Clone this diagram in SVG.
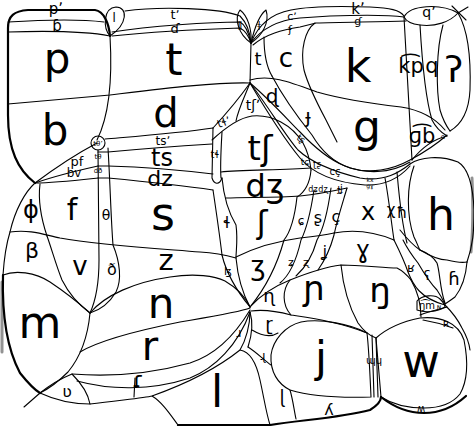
<svg xmlns="http://www.w3.org/2000/svg" width="474" height="426" viewBox="0 0 474 426">
<style>
.c{fill:none;stroke:#000;stroke-width:1.1;stroke-linejoin:round;stroke-linecap:round}
.k{fill:none;stroke:#000;stroke-width:2.2;stroke-linecap:round}
.s{fill:none;stroke:#777;stroke-width:3;stroke-linecap:round;opacity:0.8}
text{font-family:"DejaVu Sans","Noto Sans",sans-serif;text-anchor:middle;fill:#000}
</style>
<rect width="474" height="426" fill="#fff"/>
<g id="connectors">
<path class="s" d="M2,282 L2,352"/>
<path class="s" d="M472,178 C473,200 473,230 471,252"/>
<path class="k" d="M35,183 C18,170 8,150 8,115 L8,28 C8,16 14,11 28,10 L95,10 C104,11 109,24 110,36"/>
<path class="c" d="M8,22 C40,20 80,19 104,22"/>
<path class="c" d="M8,32 C40,31 85,31 110,36"/>
<path class="c" d="M8,104 C50,100 90,97 110,95 C160,89 215,82 250,83"/>
<path class="c" d="M110,36 C112,70 111,112 97,140"/>
<path class="c" d="M110,36 C103,28 103,8 116,7 C128,7 128,24 110,36 Z"/>
<path class="c" d="M125,11 C160,6 220,8 240,16 C246,22 250,32 251,43"/>
<path class="c" d="M112,32 C150,26 210,22 240,22 C246,25 249,34 251,43"/>
<path class="c" d="M112,36 C150,32 210,29 240,28 C246,31 249,37 251,43"/>
<path class="c" d="M251,43 C238,34 234,18 240,10 C248,16 252,30 251,43"/>
<path class="c" d="M251,43 C254,30 258,16 266,10 C270,22 262,36 251,43"/>
<path class="c" d="M251,43 L250,83"/>
<path class="c" d="M251,43 C258,25 270,14 291,10 C310,6 340,6 370,7 C390,8 400,10 404,16"/>
<path class="c" d="M251,43 C262,28 280,20 300,18 L330,16 C360,15 390,15 404,17"/>
<path class="c" d="M253,45 C266,34 282,30 300,27 L316,23 C340,22 380,22 406,21"/>
<path class="c" d="M264,37 C264,52 266,66 272,76"/>
<path class="c" d="M250,80 C270,74 290,82 317,92 C345,100 375,104 401,107 C420,110 435,118 445,130"/>
<path class="c" d="M315,23 C305,30 300,50 304,70 C308,85 318,105 326,120 C330,128 334,136 337,142"/>
<path class="c" d="M272,76 C282,95 296,115 312,135 C322,152 335,163 350,168 C370,174 392,170 410,160 C425,152 438,143 447,135"/>
<path class="c" d="M404,17 C410,5 440,3 458,13 C450,22 435,27 420,25 C412,24 406,21 404,17 Z"/>
<path class="c" d="M452,6 L466,20 M458,13 L468,7"/>
<path class="c" d="M404,17 C406,50 409,100 412,160"/>
<path class="c" d="M420,25 C422,60 426,100 432,120 C436,128 442,133 447,136"/>
<path class="c" d="M443,25 C436,50 436,90 440,110 C443,120 447,127 450,131"/>
<path class="c" d="M458,13 C468,30 471,60 470,90 C469,110 462,124 450,131"/>
<path class="c" d="M412,160 C420,150 430,140 447,136"/>
<path class="c" d="M250,83 C270,100 288,120 300,132 C315,148 330,160 345,166 C365,174 390,174 410,162"/>
<path class="c" d="M250,83 C268,106 285,135 298,150 C312,163 335,172 360,178 C385,182 400,172 410,164"/>
<path class="c" d="M250,83 C266,110 285,140 300,158 C315,176 340,183 365,185 C388,186 402,175 410,166"/>
<path class="c" d="M35,183 C55,168 80,152 97,143"/>
<path class="c" d="M35,183 C55,176 80,170 98,166"/>
<path class="c" d="M35,183 C55,183 80,180 98,178"/>
<circle class="c" cx="98" cy="143" r="7"/>
<path class="c" d="M98,150 L99,260 C99,285 96,300 90,313"/>
<path class="c" d="M108,148 C110,180 111,220 113,245 C120,262 122,280 116,292 C110,302 100,310 90,313"/>
<path class="c" d="M105,139 C140,136 180,133 213,128"/>
<path class="c" d="M98,152 L108,152 C140,149 180,146 212,144"/>
<path class="c" d="M98,166 L108,166 C140,167 180,170 213,174"/>
<path class="c" d="M98,178 L108,178 C140,181 180,185 213,190"/>
<path class="c" d="M213,128 L212,178 M222,132 C221,150 220,165 221,178 M212,178 C214,184 219,186 222,178"/>
<path class="c" d="M213,190 C216,210 219,230 222,255"/>
<path class="c" d="M35,183 C25,192 15,210 10,232 C6,245 4,260 3,275"/>
<path class="c" d="M40,184 C38,200 40,215 47,236"/>
<path class="c" d="M10,232 C30,229 45,235 60,238 C100,245 150,248 200,252 C215,253 225,255 236,258"/>
<path class="c" d="M47,236 C52,250 56,265 62,280 C68,292 75,302 90,313"/>
<path class="c" d="M3,275 C15,270 35,272 50,282 C65,292 80,304 90,313"/>
<path class="k" d="M3,275 C2,310 5,345 20,373 C28,383 35,390 40,393"/>
<path class="c" d="M90,313 C88,335 82,355 68,372 C58,382 48,389 40,393 L24,407"/>
<path class="c" d="M40,393 C50,385 62,378 72,374 C80,382 88,393 90,404 C70,404 55,400 40,393 Z"/>
<path class="c" d="M90,313 C105,295 135,282 170,277 C195,273 215,276 225,281 C237,288 246,298 250,307"/>
<path class="c" d="M80,352 C100,340 140,330 180,322 C215,316 240,312 250,308"/>
<path class="c" d="M72,374 C110,377 150,374 190,363 C215,355 235,335 250,310"/>
<path class="c" d="M77,381 C110,390 150,391 190,378 C215,368 238,345 250,312"/>
<path class="c" d="M90,404 C120,400 145,398 152,396 C180,386 215,370 240,350 C246,340 250,325 250,312"/>
<path class="c" d="M135,378 L134,397"/>
<path class="c" d="M152,396 C162,402 170,414 178,425"/>
<path class="c" d="M240,350 C252,352 257,366 260,380 C264,398 266,412 270,425"/>
<path class="k" d="M178,425 L270,425"/>
<path class="c" d="M250,83 C238,100 225,115 213,128"/>
<path class="c" d="M250,83 C244,98 238,110 236,121"/>
<path class="c" d="M212,140 C225,128 238,118 252,116 C272,114 292,125 303,143 C308,152 310,160 311,170"/>
<path class="c" d="M221,172 C240,170 280,170 311,168"/>
<path class="c" d="M222,178 C224,200 230,215 236,225 C238,240 236,250 236,258 C238,280 244,296 250,307"/>
<path class="c" d="M222,255 C226,272 236,290 250,307"/>
<path class="c" d="M226,198 C245,197 275,198 300,196 C320,194 338,190 347,188"/>
<path class="c" d="M236,257 C250,250 270,242 300,238 C320,236 330,234 334,233"/>
<path class="c" d="M311,170 C310,182 305,192 297,197 C295,215 292,230 284,240 C278,262 268,285 250,307"/>
<path class="c" d="M314,190 C311,210 307,228 301,240 C296,262 290,275 280,283"/>
<path class="c" d="M331,188 C328,210 324,228 317,240 C312,258 305,268 296,276"/>
<path class="c" d="M347,188 C342,205 337,220 334,235 C330,250 325,260 318,270"/>
<path class="c" d="M334,233 C350,230 370,230 394,240"/>
<path class="c" d="M385,178 C389,200 391,220 394,240"/>
<path class="c" d="M397,172 C399,195 401,220 407,243"/>
<path class="c" d="M410,164 C420,157 440,155 458,162 C468,168 473,185 474,210 C474,232 473,245 467,262"/>
<path class="c" d="M414,166 C407,185 406,215 414,237 C418,245 419,249 420,250"/>
<path class="c" d="M400,230 C408,240 414,246 420,250 C430,256 440,260 447,260 C455,262 462,263 467,262"/>
<path class="c" d="M250,307 C258,298 270,288 290,280 C310,272 325,267 341,265 C360,265 385,268 397,268 C403,271 407,275 411,280"/>
<path class="c" d="M290,280 C282,290 282,305 291,315"/>
<path class="c" d="M341,265 C343,285 348,305 358,323 C363,330 370,336 376,338"/>
<path class="c" d="M411,280 C418,292 421,305 421,317"/>
<path class="c" d="M251,311 C265,309 280,312 291,315 C310,318 340,322 367,333"/>
<path class="c" d="M250,312 C253,322 252,335 248,347"/>
<path class="c" d="M252,330 C262,336 270,338 278,333"/>
<path class="c" d="M367,333 C350,324 320,318 301,322 C285,326 273,340 271,355 C270,372 278,384 290,390 C310,396 340,398 371,397 C370,375 369,350 367,333 Z"/>
<path class="c" d="M372,335 L374,397 M376,338 L378,397"/>
<path class="c" d="M376,338 C385,330 400,322 420,318 C440,316 458,322 464,340 C468,360 468,380 460,394 C452,404 440,408 424,408 C405,408 392,404 381,397 L376,338"/>
<path class="k" d="M381,397 C395,408 410,413 424,413 C440,413 455,406 466,396"/>
<path class="c" d="M290,390 C293,400 294,410 296,419"/>
<path class="k" d="M270,425 C300,420 340,418 370,410 C378,405 381,400 381,397"/>
<path class="c" d="M248,347 C256,352 264,360 271,365"/>
<path class="c" d="M394,240 C400,252 405,263 408,272 C413,285 420,298 445,305"/>
<path class="c" d="M403,240 C408,250 414,258 418,263 C425,275 432,285 437,290 C441,296 443,300 445,304"/>
<path class="c" d="M420,250 C428,253 434,258 437,263 C440,272 440,290 445,303"/>
<path class="c" d="M467,262 C466,275 462,288 455,297 C451,300 448,302 445,304"/>
<path class="c" d="M417,301 C422,295 435,294 440,299 C443,302 445,305 445,307 C437,312 425,313 417,310 Z"/>
<path class="c" d="M420,315 C430,311 440,309 447,307 M423,320 C435,322 445,325 453,328"/>
<path class="c" d="M445,305 C452,312 458,320 462,328 C466,335 469,342 470,350"/>
</g>
<g id="labels">
<text x="56" y="14" font-size="15">pʼ</text>
<text x="57" y="31" font-size="15">ɓ</text>
<text x="57" y="73" font-size="42">p</text>
<text x="55" y="145" font-size="42">b</text>
<text x="114" y="20" font-size="11">ǀ</text>
<text x="175" y="19" font-size="13">tʼ</text>
<text x="175" y="33" font-size="13">ɗ</text>
<text x="174" y="75" font-size="44">t</text>
<text x="166" y="127" font-size="40">d</text>
<text x="240" y="28" font-size="9">ǁ</text>
<text x="259" y="28" font-size="9">ǂ</text>
<text x="258" y="65" font-size="18">t</text>
<text x="292" y="20" font-size="11">cʼ</text>
<text x="290" y="33" font-size="11">ʄ</text>
<text x="286" y="67" font-size="26">c</text>
<text x="358" y="14" font-size="15">kʼ</text>
<text x="358" y="25" font-size="11">ɠ</text>
<text x="358" y="82" font-size="46">k</text>
<text x="429" y="17" font-size="14">qʼ</text>
<text x="411" y="73" font-size="21">k͡p</text>
<text x="432" y="73" font-size="21">q</text>
<text x="454" y="82" font-size="36">ʔ</text>
<text x="367" y="142" font-size="44">g</text>
<text x="422" y="143" font-size="21">ɡ͡b</text>
<text x="443" y="139" font-size="7">ɢ</text>
<text x="272" y="103" font-size="20">ɖ</text>
<text x="308" y="123" font-size="20">ɟ</text>
<text x="253" y="110" font-size="14">tʃʼ</text>
<text x="224" y="126" font-size="11" transform="rotate(-20 224 123)">tɬʼ</text>
<text x="215" y="158" font-size="10">tɬ</text>
<text x="260" y="160" font-size="34">tʃ</text>
<text x="265" y="197" font-size="32">dʒ</text>
<text x="301" y="142" font-size="9" transform="rotate(35 301 139)">tʂ</text>
<text x="305" y="165" font-size="9">tɕ</text>
<text x="317" y="167" font-size="9">ʈʂ</text>
<text x="335" y="175" font-size="10">cç</text>
<text x="313" y="192" font-size="8">dʑ</text>
<text x="323" y="192" font-size="8">dʐ</text>
<text x="340" y="192" font-size="10">ɟʝ</text>
<text x="370" y="182" font-size="6">kx</text>
<text x="370" y="188" font-size="6">ɡɣ</text>
<text x="163" y="145" font-size="12">tsʼ</text>
<text x="162" y="166" font-size="24">ts</text>
<text x="160" y="186" font-size="22">dz</text>
<text x="77" y="166" font-size="13">pf</text>
<text x="74" y="177" font-size="12">bv</text>
<text x="98" y="146" font-size="7">tθʼ</text>
<text x="98" y="159" font-size="7">tθ</text>
<text x="98" y="173" font-size="7">dð</text>
<text x="31" y="218" font-size="24">ɸ</text>
<text x="72" y="220" font-size="30">f</text>
<text x="106" y="220" font-size="14">θ</text>
<text x="163" y="230" font-size="46">s</text>
<text x="227" y="228" font-size="16">ɬ</text>
<text x="262" y="233" font-size="32">ʃ</text>
<text x="301" y="225" font-size="12">ɕ</text>
<text x="318" y="223" font-size="16">ʂ</text>
<text x="336" y="222" font-size="16">ç</text>
<text x="368" y="220" font-size="24">x</text>
<text x="391" y="215" font-size="15">χ</text>
<text x="402" y="218" font-size="15">ħ</text>
<text x="441" y="230" font-size="44">h</text>
<text x="32" y="258" font-size="22">β</text>
<text x="80" y="275" font-size="26">v</text>
<text x="112" y="275" font-size="16">ð</text>
<text x="166" y="270" font-size="29">z</text>
<text x="228" y="275" font-size="11">ɮ</text>
<text x="258" y="275" font-size="26">ʒ</text>
<text x="291" y="266" font-size="11">ʑ</text>
<text x="306" y="266" font-size="11">ʐ</text>
<text x="325" y="257" font-size="15">ʝ</text>
<text x="363" y="258" font-size="24">ɣ</text>
<text x="411" y="272" font-size="13">ʁ</text>
<text x="427" y="280" font-size="13">ʕ</text>
<text x="454" y="285" font-size="18">ɦ</text>
<text x="40" y="338" font-size="44">m</text>
<text x="161" y="318" font-size="42">n</text>
<text x="150" y="360" font-size="40">r</text>
<text x="138" y="387" font-size="22">ɾ</text>
<text x="67" y="397" font-size="16">ʋ</text>
<text x="217" y="407" font-size="44">l</text>
<text x="269" y="302" font-size="18">ɳ</text>
<text x="314" y="300" font-size="34">ɲ</text>
<text x="380" y="302" font-size="34">ŋ</text>
<text x="427" y="309" font-size="10">ŋ͡m</text>
<text x="439" y="309" font-size="7">ɴ</text>
<text x="446" y="327" font-size="11">ʀ</text>
<text x="269" y="330" font-size="18">ɽ</text>
<text x="239" y="337" font-size="12">ɹ</text>
<text x="263" y="360" font-size="12">ɻ</text>
<text x="321" y="372" font-size="43">j</text>
<text x="374" y="364" font-size="10">ɰɥ</text>
<text x="421" y="377" font-size="46">w</text>
<text x="421" y="412" font-size="10">ʍ</text>
<text x="329" y="415" font-size="16">ʎ</text>
<text x="282" y="403" font-size="18">ɭ</text>
</g>
</svg>
